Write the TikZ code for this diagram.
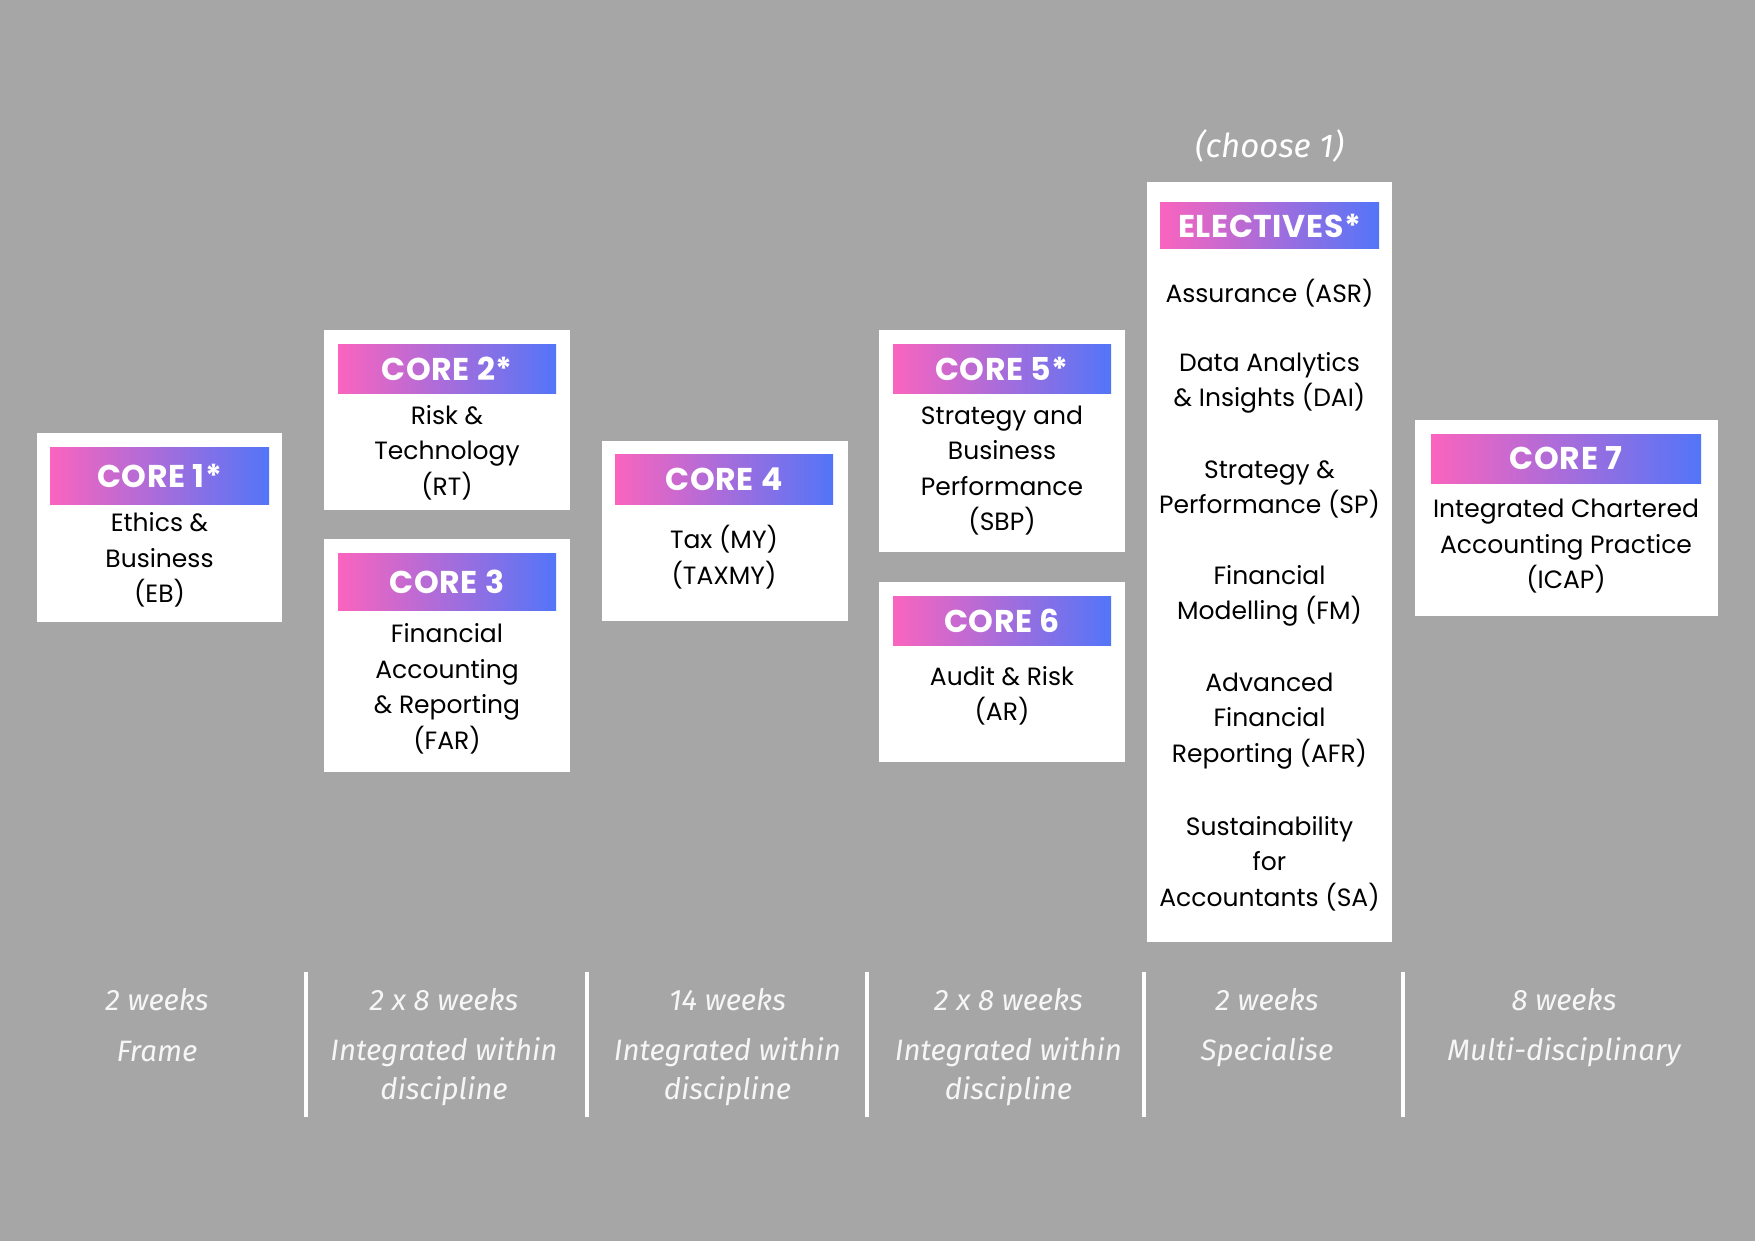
\documentclass[tikz,border=0pt]{standalone}
\usepackage{fontspec}
\setmainfont{Poppins}
\newfontfamily\hdrfont{Poppins}[LetterSpace=2]
\newfontfamily\btmfont{Fira Sans}
\definecolor{bgc}{HTML}{A6A6A6}
\definecolor{pinkc}{HTML}{FA64BE}
\definecolor{bluec}{HTML}{5375F8}
\definecolor{btmc}{HTML}{F6F6F6}
\begin{document}
\begin{tikzpicture}[x=1pt,y=-1pt,
  card/.style={fill=white,draw=none,inner sep=0pt,rectangle},
  hdr/.style={left color=pinkc,right color=bluec,draw=none,inner sep=0pt,
    text=white,font=\hdrfont\bfseries\fontsize{31.5}{36}\selectfont},
  body/.style={inner sep=0pt,align=center,text=black,
    font=\fontsize{25}{35.5}\selectfont},
  btm/.style={inner sep=0pt,align=center,text=btmc,
    font=\btmfont\itshape\fontsize{29.5}{39}\selectfont},
  divider/.style={draw=white,line width=4pt}
]
\fill[bgc] (0,0) rectangle (1755,1241);
\useasboundingbox (0,0) rectangle (1755,1241);

% cards
\node[card,minimum width=245pt,minimum height=189pt] (c1) at (159.5,527.5) {};
\node[card,minimum width=246pt,minimum height=180pt] (c2) at (447,420) {};
\node[card,minimum width=246pt,minimum height=233pt] (c3) at (447,655.5) {};
\node[card,minimum width=246pt,minimum height=180pt] (c4) at (725,531) {};
\node[card,minimum width=246pt,minimum height=222pt] (c5) at (1002,441) {};
\node[card,minimum width=246pt,minimum height=180pt] (c6) at (1002,672) {};
\node[card,minimum width=245pt,minimum height=760pt] (ce) at (1269.5,562) {};
\node[card,minimum width=303pt,minimum height=196pt] (c7) at (1566.5,518) {};

% headers
\node[hdr,minimum width=219pt,minimum height=57pt] (h1) at (159.5,475.5) {CORE 1*};
\node[hdr,minimum width=218pt,minimum height=49pt] (h2) at (447,368.5) {CORE 2*};
\node[hdr,minimum width=218pt,minimum height=57pt] (h3) at (447,581.5) {CORE 3};
\node[hdr,minimum width=218pt,minimum height=50pt] (h4) at (724,479) {CORE 4};
\node[hdr,minimum width=218pt,minimum height=49pt] (h5) at (1002,368.5) {CORE 5*};
\node[hdr,minimum width=218pt,minimum height=49pt] (h6) at (1002,620.5) {CORE 6};
\node[hdr,minimum width=219pt,minimum height=46pt] (he) at (1269.5,226) {ELECTIVES*};
\node[hdr,minimum width=270pt,minimum height=49pt] (h7) at (1566,458.5) {CORE 7};

% body texts
\node[body] (t1) at (159.5,560) {Ethics \&\\Business\\(EB)};
\node[body] (t2) at (447,452.5) {Risk \&\\Technology\\(RT)};
\node[body] (t3) at (447,689) {Financial\\Accounting\\\& Reporting\\(FAR)};
\node[body] (t4) at (724,557) {Tax (MY)\\(TAXMY)};
\node[body] (t5) at (1002,470.5) {Strategy and\\Business\\Performance\\(SBP)};
\node[body] (t6) at (1002,696) {Audit \& Risk\\(AR)};
\node[body] (e1) at (1269.5,293) {Assurance (ASR)};
\node[body] (e2) at (1269.5,383) {Data Analytics\\\& Insights (DAI)};
\node[body] (e3) at (1269.5,489.5) {Strategy \&\\Performance (SP)};
\node[body] (e4) at (1269.5,596) {Financial\\Modelling (FM)};
\node[body] (e5) at (1269.5,721) {Advanced\\Financial\\Reporting (AFR)};
\node[body] (e6) at (1269.5,863.5) {Sustainability\\for\\Accountants (SA)};
\node[body] (t7) at (1566,546.5) {Integrated Chartered\\Accounting Practice\\(ICAP)};

% choose
\node[btm,font=\btmfont\itshape\fontsize{33}{39}\selectfont,text=white] (ch) at (1269.5,146) {(choose 1)};

% bottom texts
\node[btm] (w1) at (157,1000) {2 weeks};
\node[btm] (d1) at (157,1052) {Frame};
\node[btm] (w2) at (444,1000) {2 x 8 weeks};
\node[btm] (d2) at (444,1072) {Integrated within\\discipline};
\node[btm] (w3) at (727.5,1000) {14 weeks};
\node[btm] (d3) at (727.5,1072) {Integrated within\\discipline};
\node[btm] (w4) at (1008.5,1000) {2 x 8 weeks};
\node[btm] (d4) at (1008.5,1072) {Integrated within\\discipline};
\node[btm] (w5) at (1267,1000) {2 weeks};
\node[btm] (d5) at (1267,1052) {Specialise};
\node[btm] (w6) at (1564,1000) {8 weeks};
\node[btm] (d6) at (1564,1052) {Multi-disciplinary};

% dividers
\foreach \xx in {306,587,867,1144,1403}
  \draw[divider] (\xx,972) -- (\xx,1117);
\end{tikzpicture}
\end{document}
